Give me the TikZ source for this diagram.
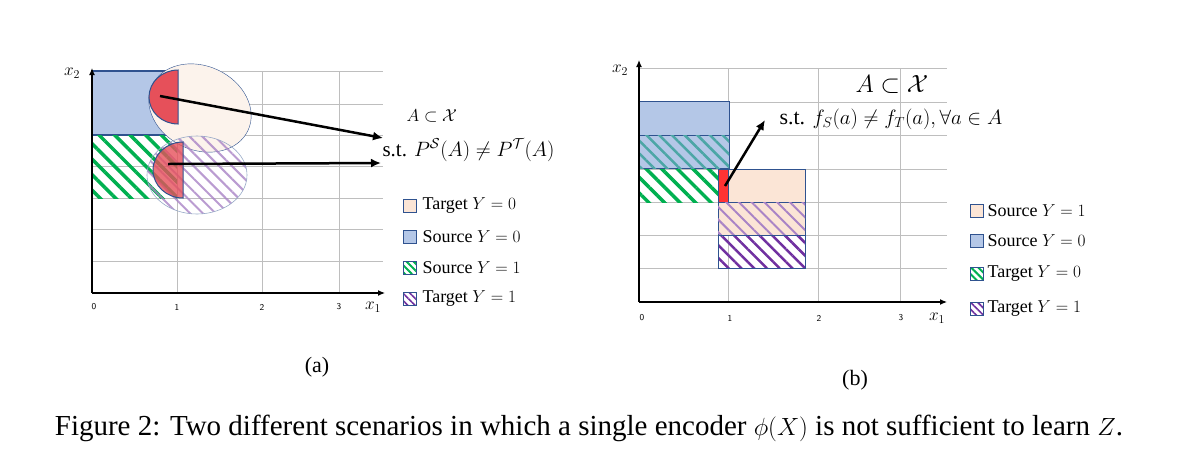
\documentclass[tikz,border=0pt]{standalone}
\usepackage{fontspec}
\setmainfont{Liberation Serif}
\usetikzlibrary{patterns.meta,arrows.meta}
\definecolor{bfill}{RGB}{180,199,231}
\definecolor{bedge}{RGB}{47,82,143}
\definecolor{beige}{RGB}{251,229,214}
\definecolor{beigel}{RGB}{252,243,236}
\definecolor{grn}{RGB}{0,176,80}
\definecolor{purp}{RGB}{112,48,160}
\definecolor{redf}{RGB}{230,80,90}
\definecolor{gridc}{RGB}{190,190,190}
\tikzset{
 gridl/.style={gridc,line width=1pt},
 axis/.style={black,line width=1.2pt,-{Latex[length=7pt,width=6pt]}},
 arr/.style={black,line width=2.5pt,-{Latex[length=10pt,width=9pt]}},
 ghatch/.style={pattern={Lines[angle=-45,distance=11pt,line width=3.5pt]},pattern color=grn},
 phatch/.style={pattern={Lines[angle=-45,distance=9pt,line width=2pt]},pattern color=purp!60},
 phatchd/.style={pattern={Lines[angle=-45,distance=9pt,line width=2.5pt]},pattern color=purp},
 lhatchg/.style={pattern={Lines[angle=-45,distance=5pt,line width=2pt]},pattern color=grn},
 lhatchp/.style={pattern={Lines[angle=-45,distance=5pt,line width=1.6pt]},pattern color=purp},
 thatch/.style={pattern={Lines[angle=-45,distance=9pt,line width=2.5pt]},pattern color=teal!70},
 tick/.style={font=\sffamily\fontsize{9}{10}\selectfont},
 lbl/.style={font=\fontsize{14}{16}\selectfont,anchor=west},
 legt/.style={font=\fontsize{18}{20}\selectfont,anchor=west},
 leg/.style={draw=bedge,line width=1pt,minimum size=13pt,inner sep=0pt},
}
\begin{document}
\begin{tikzpicture}[x=1pt,y=-1pt]
\useasboundingbox (0,0) rectangle (1193,456);
% ---------- left ----------
\foreach \y in {71,104,135,166,198,229,261} \draw[gridl] (92,\y) -- (383,\y);
\foreach \x in {177,262,339} \draw[gridl] (\x,71) -- (\x,293);
\fill[bfill] (92,71) rectangle (177,135);
\draw[bedge,line width=1.2pt] (92,71) rectangle (177,135);
\path[ghatch] (92,135) rectangle (177,198);
\draw[bedge,fill=beigel,rotate around={-25:(200,108)}] (200,108) ellipse[x radius=53,y radius=42];
\path[phatch,opacity=0.8] (197,175) ellipse[x radius=50,y radius=39];
\draw[bedge!50,line width=0.6pt] (197,175) ellipse[x radius=50,y radius=39];
\draw[bedge,fill=redf,line width=1pt] (178,70) arc[start angle=270,end angle=90,x radius=29,y radius=27] -- cycle;
\draw[bedge,fill=redf,fill opacity=0.8,line width=1pt] (183,142) arc[start angle=270,end angle=90,x radius=30,y radius=28] -- cycle;
\draw[axis] (92,293) -- (92,68);
\draw[axis] (92,293) -- (385,293);
\node[font=\fontsize{18}{18}\selectfont] (x2a) at (72,73) {$x_2$};
\node[font=\fontsize{18}{18}\selectfont] (x1a) at (373,307) {$x_1$};
\node[tick] (t0a) at (94,307) {0};
\node[tick] (t1a) at (177,307) {1};
\node[tick] (t2a) at (262,307) {2};
\node[tick] (t3a) at (339,307) {3};
\coordinate (s1) at (160,96); \coordinate (e1) at (383,138);
\coordinate (s2) at (168,164); \coordinate (e2) at (381,163);
\draw[arr] (s1) -- (e1);
\draw[arr] (s2) -- (e2);
\node[lbl,font=\fontsize{19}{21}\selectfont] (A1) at (403,116) {$A\subset\mathcal{X}$};
\node[lbl,font=\fontsize{21}{23}\selectfont] (st1) at (379,150) {s.t. $P^{\mathcal{S}}(A)\neq P^{\mathcal{T}}(A)$};
\node[leg,fill=beige] (la1) at (410,206) {};
\node[leg,fill=bfill] (la2) at (410,237) {};
\node[leg,lhatchg] (la3) at (410,268) {};
\node[leg,lhatchp] (la4) at (410,299) {};
\node[legt] (ta1) at (419,206) {Target $Y=0$};
\node[legt] (ta2) at (419,237) {Source $Y=0$};
\node[legt] (ta3) at (419,268) {Source $Y=1$};
\node[legt] (ta4) at (419,299) {Target $Y=1$};
% ---------- right ----------
\foreach \y in {68,102,135,169,202,235,268} \draw[gridl] (639,\y) -- (947,\y);
\foreach \x in {728,818,900} \draw[gridl] (\x,68) -- (\x,302);
\draw[bedge,fill=bfill,line width=1pt] (639,101) rectangle (729,135);
\draw[bedge,fill=bfill,line width=1pt] (639,135) rectangle (729,168);
\path[thatch] (639,135) rectangle (729,168);
\path[ghatch] (639,169) rectangle (718,202);
\draw[bedge,fill=beige,line width=1pt] (728,169) rectangle (805,202);
\draw[bedge,fill=red!80,line width=1pt] (718,169) rectangle (728,202);
\draw[bedge,fill=beige,line width=1pt] (718,202) rectangle (805,235);
\path[phatch] (718,202) rectangle (805,235);
\draw[bedge,line width=1pt,phatchd] (718,235) rectangle (805,268);
\draw[axis] (639,302) -- (639,60);
\draw[axis] (639,302) -- (947,302);
\node[font=\fontsize{18}{18}\selectfont] (x2b) at (620,70) {$x_2$};
\node[font=\fontsize{18}{18}\selectfont] (x1b) at (937,318) {$x_1$};
\node[tick] (t0b) at (642,318) {0};
\node[tick] (t1b) at (730,318) {1};
\node[tick] (t2b) at (819,318) {2};
\node[tick] (t3b) at (901,318) {3};
\coordinate (s3) at (725,186); \coordinate (e3) at (765,120);
\draw[arr] (s3) -- (e3);
\node[lbl,font=\fontsize{25}{27}\selectfont] (A2) at (852,84) {$A\subset\mathcal{X}$};
\node[lbl,font=\fontsize{22}{24}\selectfont] (st2) at (776,119) {s.t. $f_S(a)\neq f_T(a),\forall a\in A$};
\node[leg,fill=beige] (lb1) at (977,211) {};
\node[leg,fill=bfill] (lb2) at (977,241) {};
\node[leg,lhatchg] (lb3) at (977,274) {};
\node[leg,lhatchp] (lb4) at (977,309) {};
\node[legt] (tb1) at (984,211) {Source $Y=1$};
\node[legt] (tb2) at (984,241) {Source $Y=0$};
\node[legt] (tb3) at (984,274) {Target $Y=0$};
\node[legt] (tb4) at (984,309) {Target $Y=1$};
% ---------- captions ----------
\node[font=\fontsize{22}{24}\selectfont] (ca) at (317,367) {(a)};
\node[font=\fontsize{22}{24}\selectfont] (cb) at (855,380) {(b)};
\node[font=\fontsize{29}{32}\selectfont] (cap) at (589,428) {Figure 2: Two different scenarios in which a single encoder $\phi(X)$ is not sufficient to learn $Z$.};
\end{tikzpicture}
\end{document}
